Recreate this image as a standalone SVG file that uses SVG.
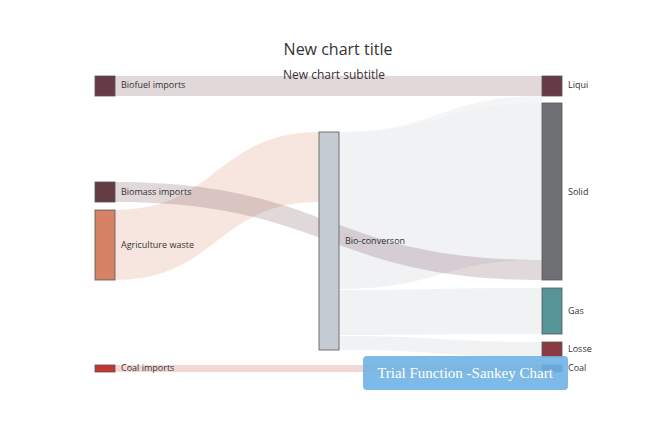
<svg xmlns="http://www.w3.org/2000/svg" width="661" height="447" viewBox="0 0 661 447">
<style>
text{font-family:"Open Sans","Noto Sans",sans-serif;fill:#333}
.lbl{font-size:9px}
.node{stroke:#555;stroke-width:1;stroke-opacity:.8}
.lk{stroke:none}
</style>
<rect width="661" height="447" fill="#fff"/>
<g id="links">
<path class="lk" fill="#673b45" fill-opacity=".2" d="M115,76 L542,76 L542,96 L115,96 Z"/>
<path class="lk" fill="#d58265" fill-opacity=".2" d="M115,210 C217,210 217,132 319,132 L319,202 C217,202 217,280 115,280 Z"/>
<path class="lk" fill="#c5cbd3" fill-opacity=".2" d="M339,132 C440,132 440,96 542,96 L542,103 C440,103 440,133 339,133 Z"/>
<path class="lk" fill="#c5cbd3" fill-opacity=".25" d="M339,133 C440,133 440,103 542,103 L542,260 C440,260 440,289 339,289 Z"/>
<path class="lk" fill="#673b45" fill-opacity=".2" d="M115,182 C328,182 328,260 542,260 L542,280 C328,280 328,202 115,202 Z"/>
<path class="lk" fill="#c5cbd3" fill-opacity=".25" d="M339,290 C440,290 440,288 542,288 L542,334 C440,334 440,335 339,335 Z"/>
<path class="lk" fill="#c5cbd3" fill-opacity=".25" d="M339,336 C440,336 440,342 542,342 L542,357 C440,357 440,350 339,350 Z"/>
<path class="lk" fill="#c23531" fill-opacity=".2" d="M115,365 L542,365 L542,372 L115,372 Z"/>
</g>
<g id="biofuel"><rect class="node" x="95" y="76" width="20" height="20" fill="#673b45"/><text class="lbl" x="121" y="88">Biofuel imports</text></g>
<g id="biomass"><rect class="node" x="95" y="182" width="20" height="20" fill="#673b45"/><text class="lbl" x="121" y="195">Biomass imports</text></g>
<g id="agri"><rect class="node" x="95" y="210" width="20" height="70" fill="#d58265"/><text class="lbl" x="121" y="248">Agriculture waste</text></g>
<g id="coalimp"><rect class="node" x="95" y="365" width="20" height="7" fill="#c23531"/><text class="lbl" x="121" y="371">Coal imports</text></g>
<g id="bio"><rect class="node" x="319" y="132" width="20" height="218" fill="#c5cbd3"/><text class="lbl" x="345" y="244">Bio-converson</text></g>
<g id="liquid"><rect class="node" x="542" y="76" width="20" height="20" fill="#673b45"/><text class="lbl" x="568" y="88">Liqui</text></g>
<g id="solid"><rect class="node" x="542" y="103" width="20" height="177" fill="#6e7074"/><text class="lbl" x="568" y="195">Solid</text></g>
<g id="gas"><rect class="node" x="542" y="288" width="20" height="46" fill="#579599"/><text class="lbl" x="568" y="314">Gas</text></g>
<g id="losses"><rect class="node" x="542" y="342" width="20" height="15" fill="#8a3a42"/><text class="lbl" x="568" y="352">Losse</text></g>
<g id="coal"><rect class="node" x="542" y="365" width="20" height="7" fill="#3c4a7a"/><text class="lbl" x="568" y="371">Coal</text></g>
<text x="338" y="55" font-size="16" text-anchor="middle">New chart title</text>
<text x="334" y="79" font-size="12" text-anchor="middle">New chart subtitle</text>
<rect x="363" y="356" width="205" height="34" rx="4" fill="#6fb3e4" fill-opacity=".9"/>
<text x="465" y="378" font-size="15" text-anchor="middle" style="font-family:'Liberation Serif',serif;fill:#fff">Trial Function -Sankey Chart</text>
</svg>
